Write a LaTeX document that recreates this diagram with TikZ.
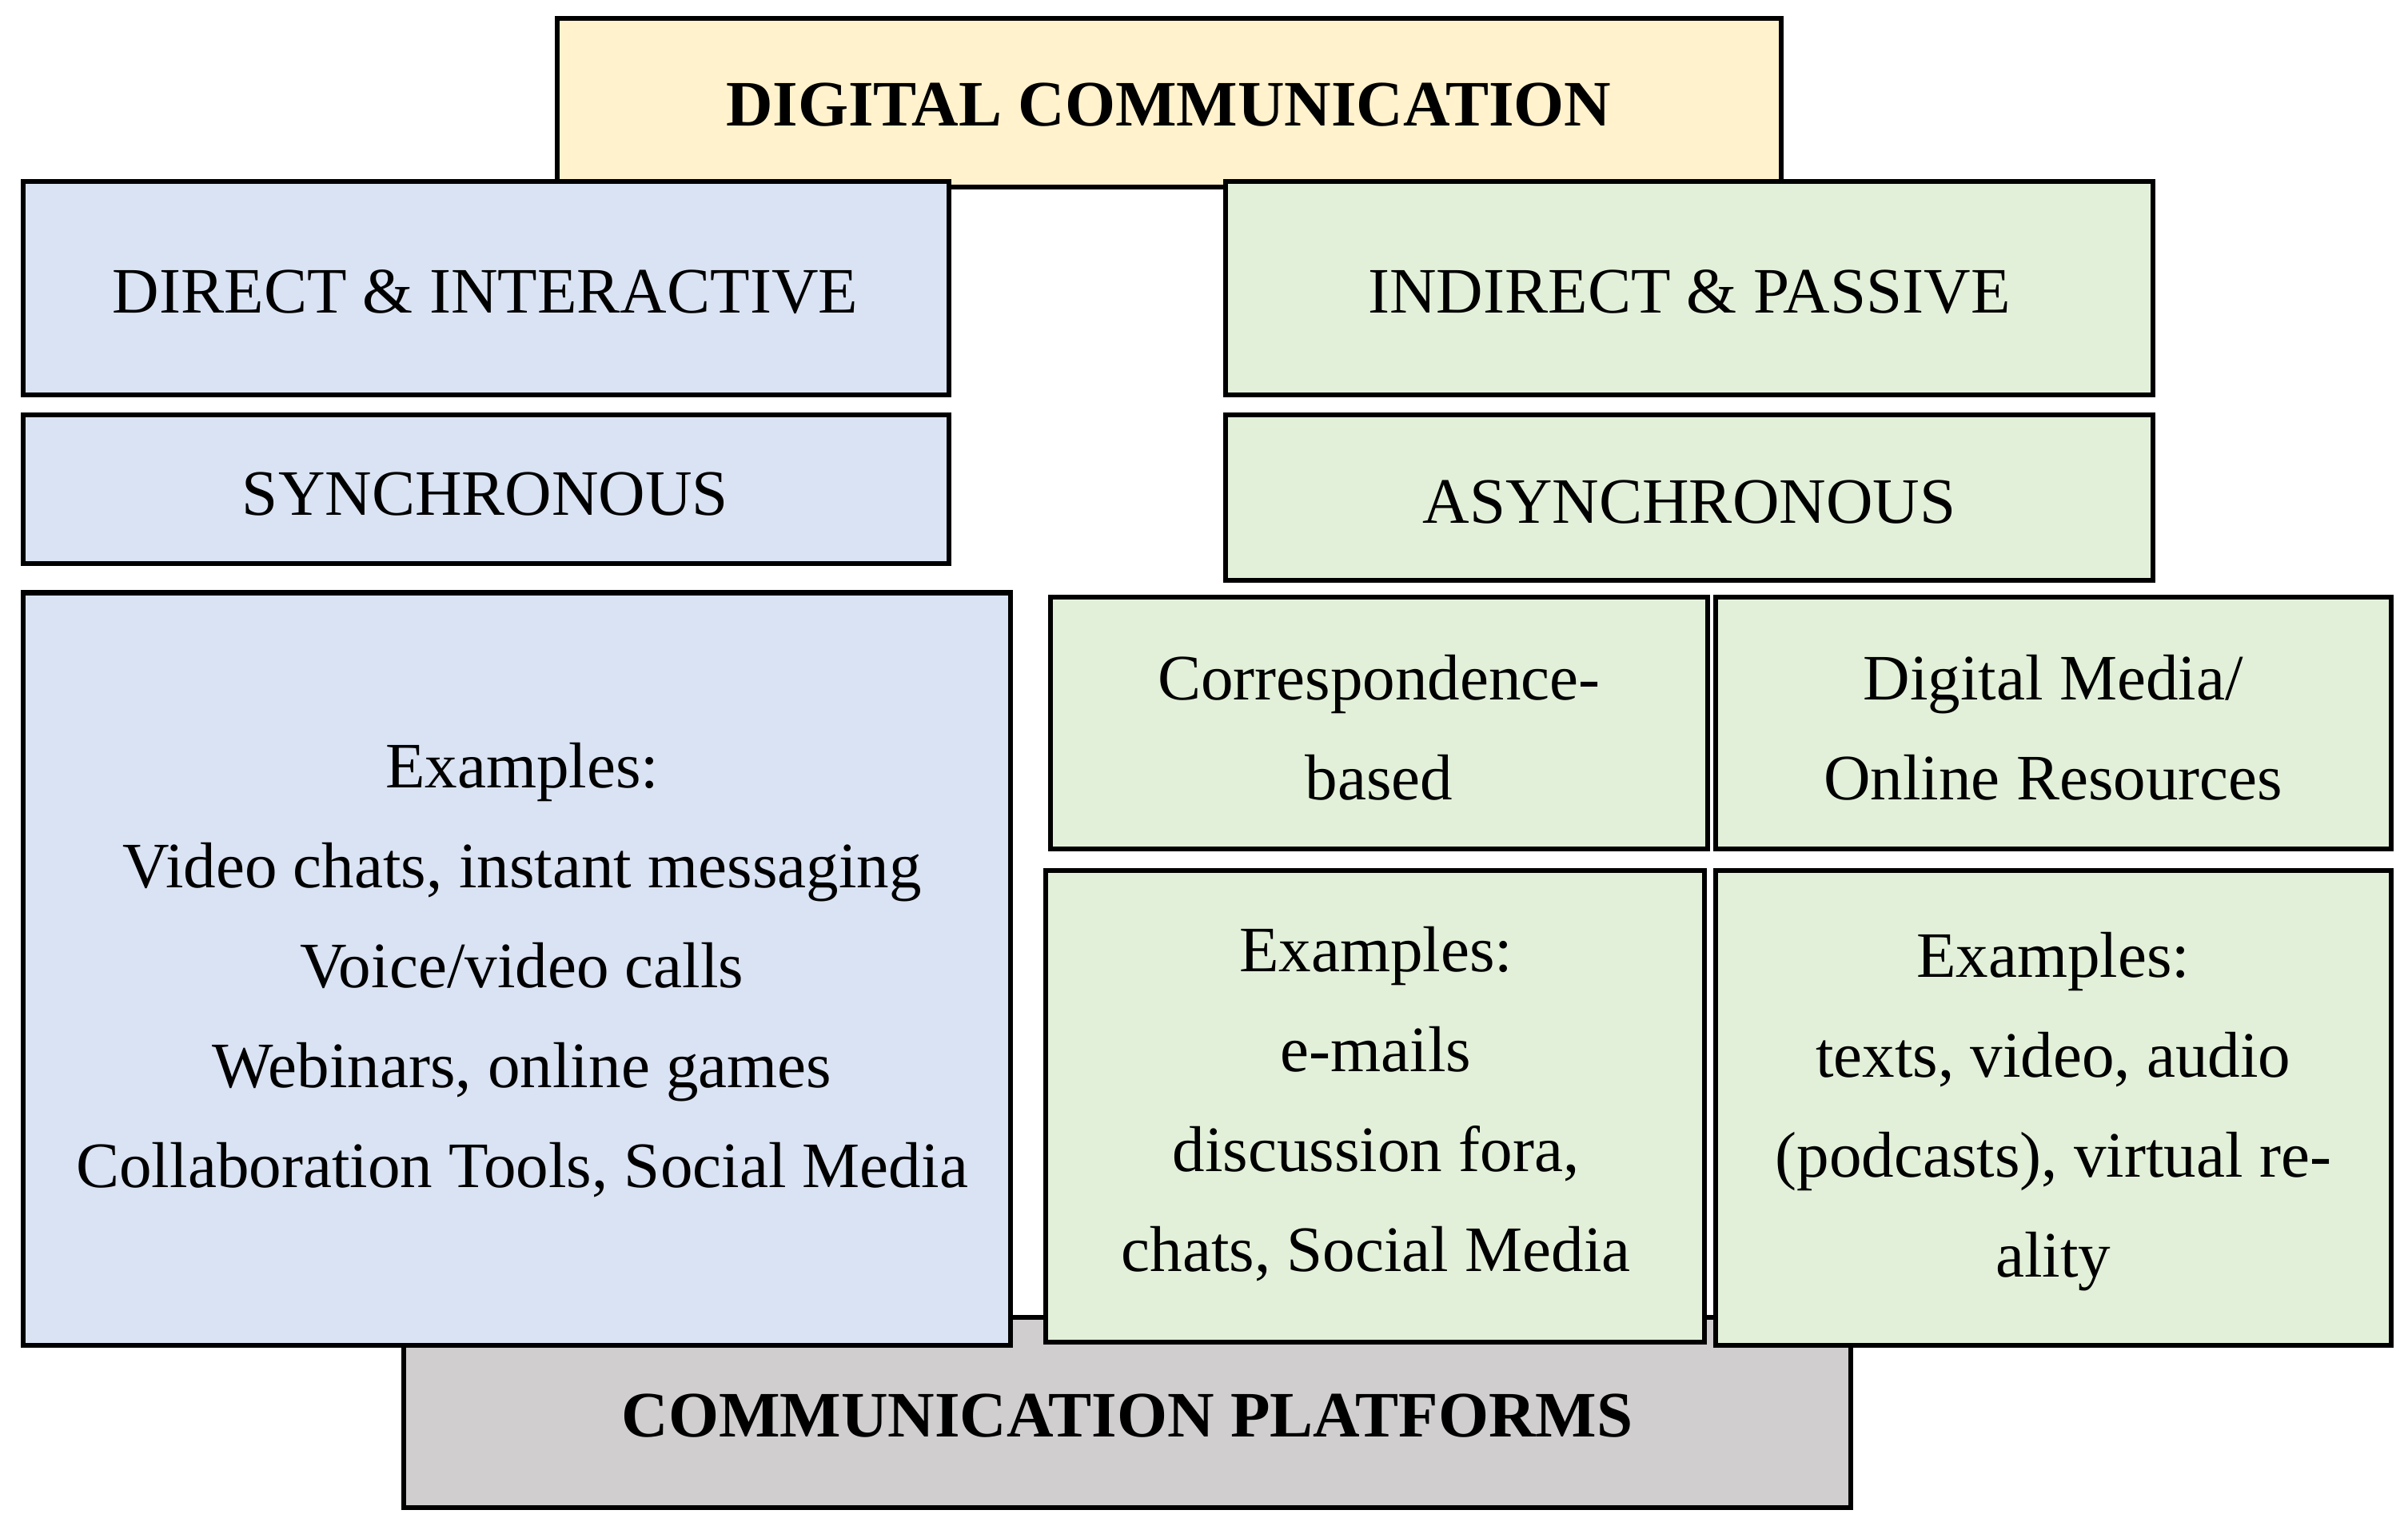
\documentclass[tikz,border=0pt]{standalone}
\usepackage{fontspec}
\setmainfont{Liberation Serif}
\begin{document}
\begin{tikzpicture}[x=0.01cm,y=-0.01cm,
  bx/.style={draw=black,line width=0.9pt},
  lbl/.style={font=\fontsize{12}{18.5}\selectfont,align=center},
  hd/.style={font=\fontsize{12}{18.5}\selectfont\bfseries,align=center}]
\useasboundingbox (0,0) rectangle (1568,996);
\definecolor{yel}{HTML}{FFF2CC}
\definecolor{blu}{HTML}{DAE3F3}
\definecolor{grn}{HTML}{E2F0D9}
\definecolor{gry}{HTML}{D0CECE}
\draw[bx,fill=gry] (263,858) rectangle (1205,982);
\node[hd] (plat) at (734,922) {COMMUNICATION PLATFORMS};
\draw[bx,fill=yel] (363,12) rectangle (1160,122);
\node[hd] (dc) at (761,68) {DIGITAL COMMUNICATION};
\draw[bx,fill=blu] (15,118) rectangle (618,257);
\node[lbl] (di) at (316,190) {DIRECT \& INTERACTIVE};
\draw[bx,fill=grn] (798,118) rectangle (1402,257);
\node[lbl] (ip) at (1100,190) {INDIRECT \& PASSIVE};
\draw[bx,fill=blu] (15,270) rectangle (618,367);
\node[lbl] (sy) at (316,322) {SYNCHRONOUS};
\draw[bx,fill=grn] (798,270) rectangle (1402,378);
\node[lbl] (as) at (1100,327) {ASYNCHRONOUS};
\draw[bx,fill=blu] (15,386) rectangle (658,876);
\node[lbl] (exl) at (340,632) {Examples:\\Video chats, instant messaging\\Voice/video calls\\Webinars, online games\\Collaboration Tools, Social Media};
\draw[bx,fill=grn] (684,389) rectangle (1112,553);
\node[lbl] (co) at (898,474) {Correspondence-\\based};
\draw[bx,fill=grn] (1117,389) rectangle (1557,553);
\node[lbl] (dm) at (1337,474) {Digital Media/\\Online Resources};
\draw[bx,fill=grn] (681,567) rectangle (1110,874);
\node[lbl] (exm) at (896,719) {Examples:\\e-mails\\discussion fora,\\chats, Social Media};
\draw[bx,fill=grn] (1117,567) rectangle (1557,876);
\node[lbl] (exr) at (1337,724) {Examples:\\texts, video, audio\\(podcasts), virtual re-\\ality};
\end{tikzpicture}
\end{document}
